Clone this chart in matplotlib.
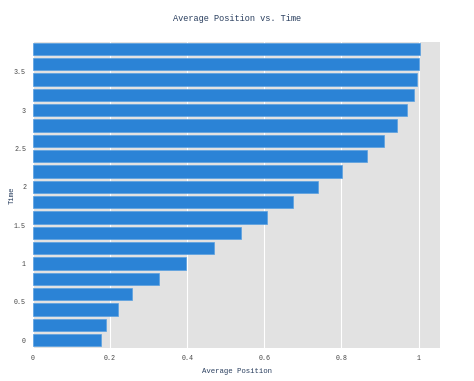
import numpy as np
import matplotlib
matplotlib.use("Agg")
import matplotlib.pyplot as plt

# data
time = [0.0, 0.2, 0.4, 0.6, 0.8, 1.0, 1.2, 1.4, 1.6, 1.8,
        2.0, 2.2, 2.4, 2.6, 2.8, 3.0, 3.2, 3.4, 3.6, 3.8]
avg_position = [0.176, 0.189, 0.220, 0.258, 0.326, 0.398, 0.470, 0.539, 0.607, 0.674,
                0.738, 0.802, 0.866, 0.911, 0.943, 0.971, 0.988, 0.995, 1.000, 1.004]
x_ticks = [0, 0.2, 0.4, 0.6, 0.8, 1.0]
x_ticklabels = ["0", "0.2", "0.4", "0.6", "0.8", "1"]
y_ticks = [0, 0.5, 1.0, 1.5, 2.0, 2.5, 3.0, 3.5]
y_ticklabels = ["0", "0.5", "1", "1.5", "2", "2.5", "3", "3.5"]

plt.rcParams['font.family'] = ['Liberation Mono', 'DejaVu Sans Mono']
text_color = "#2a3f5f"

fig = plt.figure(figsize=(4.74, 3.81), dpi=100)
ax = fig.add_axes([0.0696, 0.0874, 0.8594, 0.8032])
ax.set_facecolor("#e2e2e2")

ax.barh(time, avg_position, height=0.16, color="#2b83d6",
        edgecolor="#5aa0e0", linewidth=0.5, zorder=3)

ax.set_xlim(0, 1.0566)
ax.set_ylim(-0.1, 3.894)
ax.set_xticks(x_ticks)
ax.set_xticklabels(x_ticklabels)
ax.set_yticks(y_ticks)
ax.set_yticklabels(y_ticklabels)
ax.grid(axis="x", color="white", linewidth=0.8, zorder=1)
ax.tick_params(length=0, labelsize=4.8, labelcolor="#444444", pad=5)
for s in ax.spines.values():
    s.set_visible(False)

fig.text(0.5, 0.951, "Average Position vs. Time", ha="center", va="center",
         fontsize=6.2, color=text_color)
fig.text(0.5, 0.026, "Average Position", ha="center", va="center",
         fontsize=5.3, color=text_color)
fig.text(0.025, 0.488, "Time", ha="center", va="center", rotation=90,
         fontsize=5.3, color=text_color)

fig.savefig("out.png", dpi=100)
